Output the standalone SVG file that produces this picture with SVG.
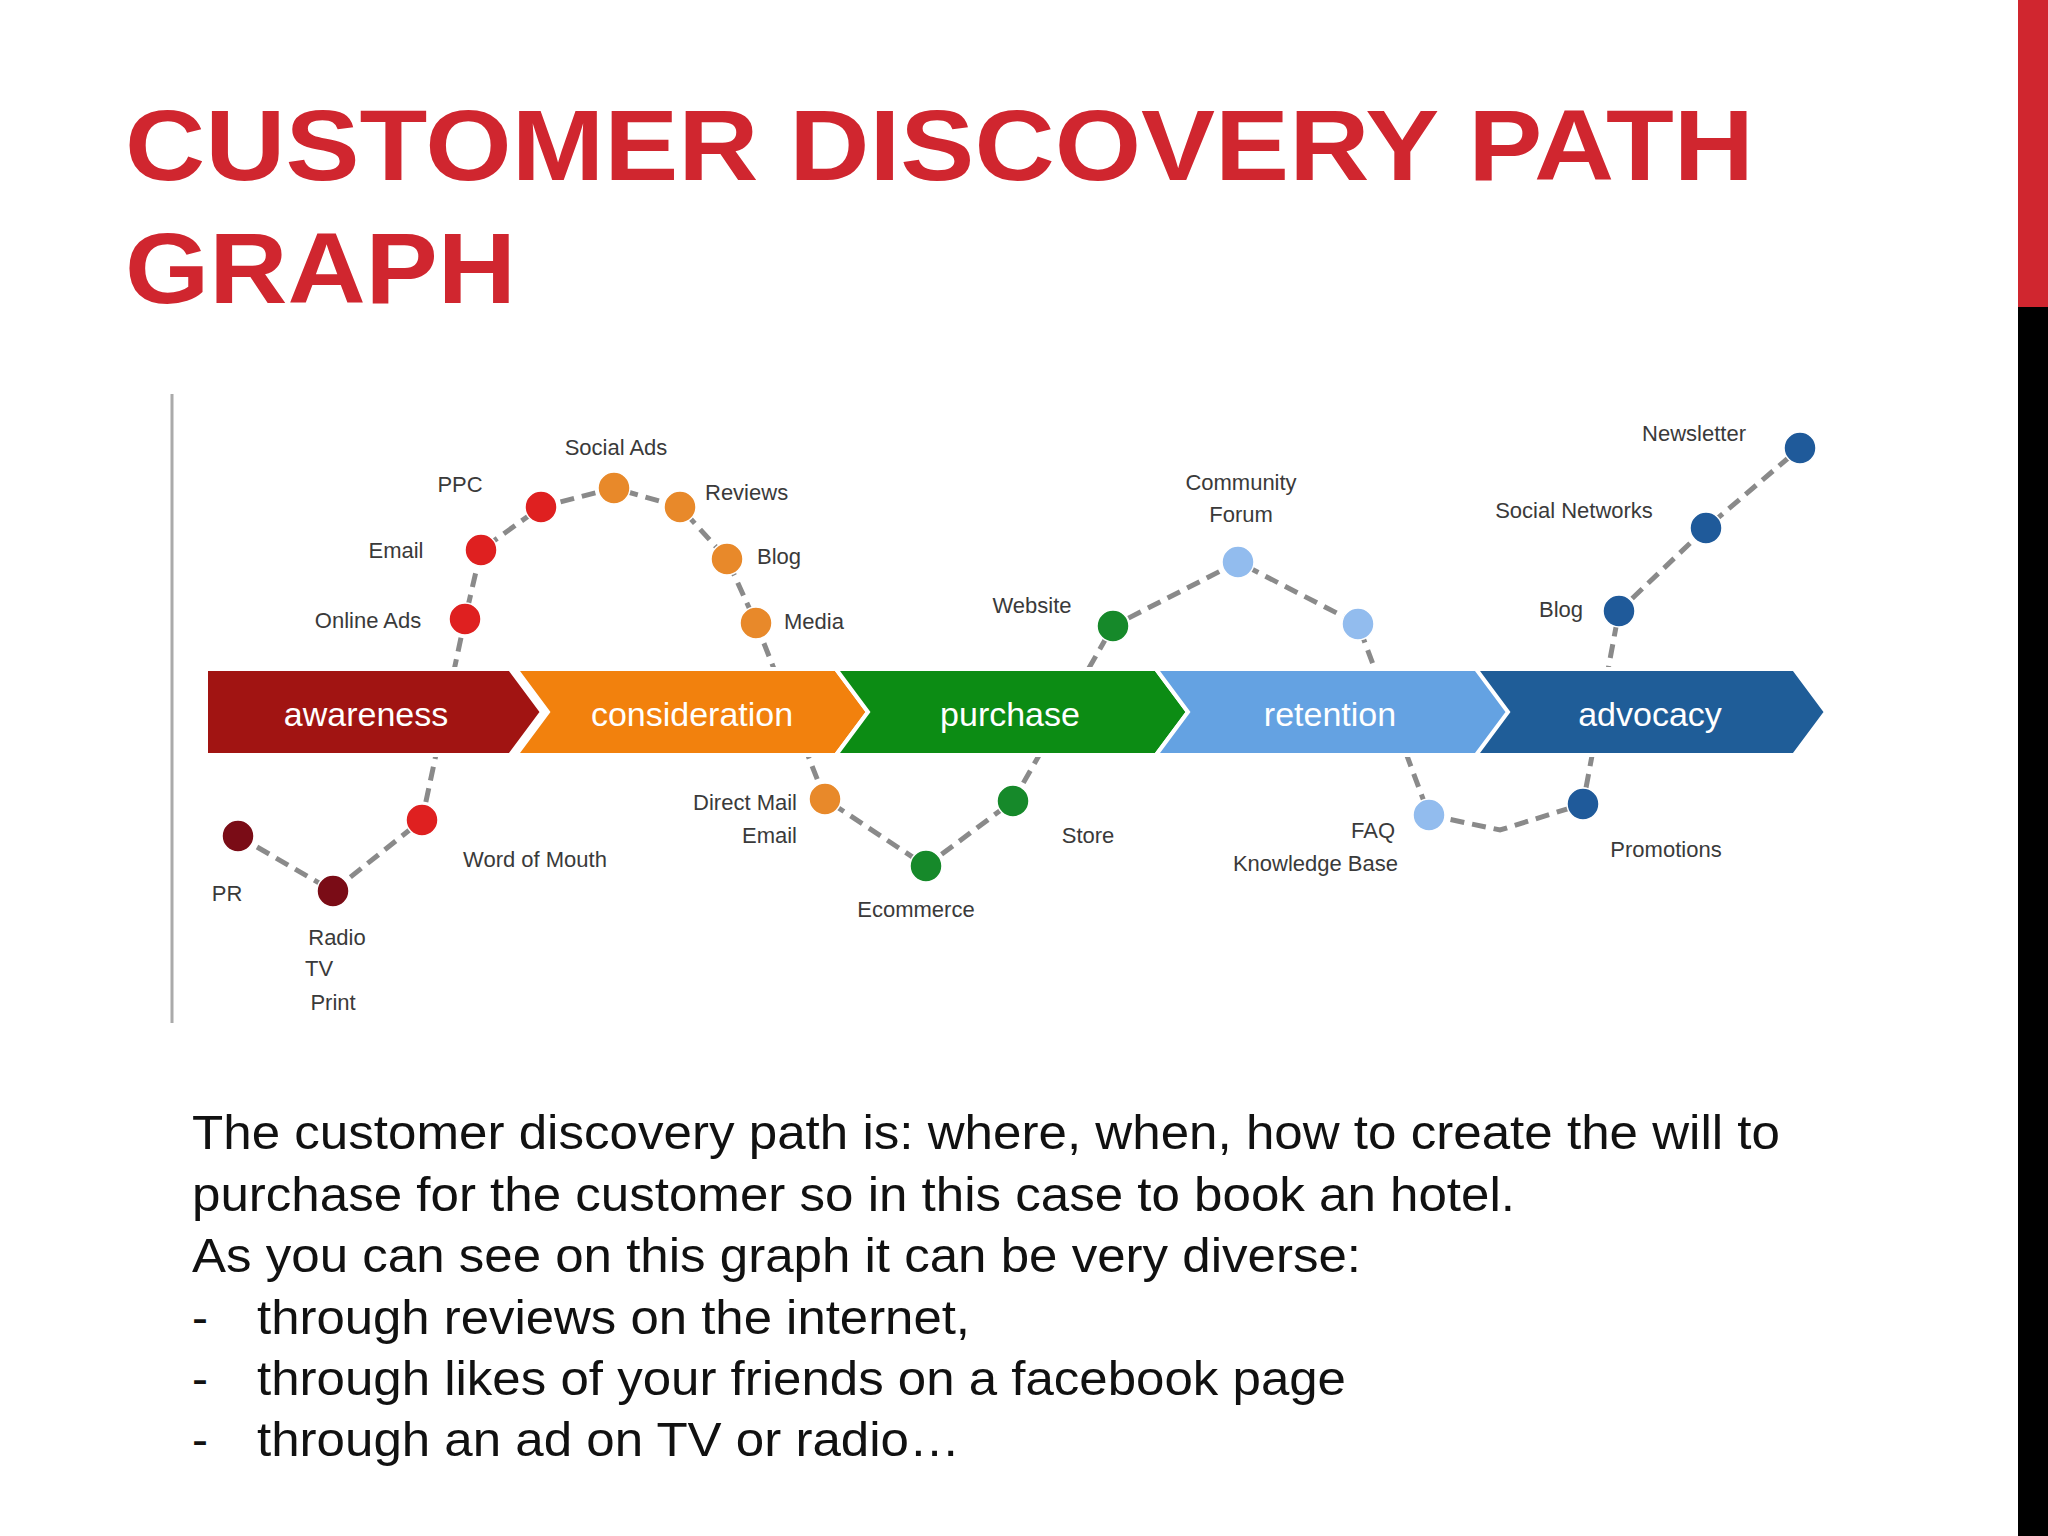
<svg xmlns="http://www.w3.org/2000/svg" width="2048" height="1536" viewBox="0 0 2048 1536">
<style>
.t{font-family:"Liberation Sans",Arial,sans-serif;font-weight:bold;fill:#d0262f;font-size:100px}
.l{font-family:"Liberation Sans",Arial,sans-serif;font-size:22px;fill:#3a3a3a}
.b{font-family:"Liberation Sans",Arial,sans-serif;font-size:34px;fill:#fff;text-anchor:middle}
.x{font-family:"Liberation Sans",Arial,sans-serif;font-size:48px;fill:#111}
.c{text-anchor:middle}.e{text-anchor:end}
.seg{stroke:#fff;stroke-width:4}
.n{stroke:#fff;stroke-width:1.5}
</style>
<rect width="2048" height="1536" fill="#fff"/>
<rect x="2018" y="0" width="30" height="307" fill="#d0262f"/>
<rect x="2018" y="307" width="30" height="1229" fill="#000"/>
<text class="t" x="125" y="180" textLength="1629" lengthAdjust="spacingAndGlyphs">CUSTOMER DISCOVERY PATH</text>
<text class="t" x="125" y="303" textLength="391" lengthAdjust="spacingAndGlyphs">GRAPH</text>
<line x1="172" y1="394" x2="172" y2="1023" stroke="#aaa" stroke-width="3"/>
<g id="connectors">
<polyline fill="none" stroke="#8a8a8a" stroke-width="5" stroke-dasharray="14,8" points="238,836 333,891 422,820 465,619 481,550 541,507 614,488 680,507 727,559 756,623 825,799 926,866 1013,801 1113,626 1238,562 1358,624 1429,815 1500,830 1583,804 1619,611 1706,528 1800,448"/>
</g>
<g id="stages">
<polygon class="seg" fill="#a11412" points="206,669 510,669 542,712 510,755 206,755"/>
<polygon class="seg" fill="#f2810d" points="516,669 836,669 868,712 836,755 516,755 548,712"/>
<polygon class="seg" fill="#0c8c14" points="836,669 1156,669 1188,712 1156,755 836,755 868,712"/>
<polygon class="seg" fill="#64a2e2" points="1156,669 1483,669 1515,712 1483,755 1156,755 1188,712"/>
<polygon class="seg" fill="#1f5d98" points="1476,669 1794,669 1826,712 1794,755 1476,755 1508,712"/>
<text class="b" x="366" y="726">awareness</text>
<text class="b" x="692" y="726">consideration</text>
<text class="b" x="1010" y="726">purchase</text>
<text class="b" x="1330" y="726">retention</text>
<text class="b" x="1650" y="726">advocacy</text>
</g>
<g id="nodes">
<g id="pr"><circle class="n" cx="238" cy="836" r="16" fill="#7a0c16"/><text class="l c" x="227" y="901">PR</text></g>
<g id="radio"><circle class="n" cx="333" cy="891" r="16" fill="#7a0c16"/><text class="l c" x="337" y="945">Radio</text><text class="l c" x="319" y="976">TV</text><text class="l c" x="333" y="1010">Print</text></g>
<g id="wom"><circle class="n" cx="422" cy="820" r="16" fill="#df2020"/><text class="l c" x="535" y="867">Word of Mouth</text></g>
<g id="onlineads"><circle class="n" cx="465" cy="619" r="16" fill="#df2020"/><text class="l c" x="368" y="628">Online Ads</text></g>
<g id="email"><circle class="n" cx="481" cy="550" r="16" fill="#df2020"/><text class="l c" x="396" y="558">Email</text></g>
<g id="ppc"><circle class="n" cx="541" cy="507" r="16" fill="#df2020"/><text class="l c" x="460" y="492">PPC</text></g>
<g id="socialads"><circle class="n" cx="614" cy="488" r="16" fill="#e8892a"/><text class="l c" x="616" y="455">Social Ads</text></g>
<g id="reviews"><circle class="n" cx="680" cy="507" r="16" fill="#e8892a"/><text class="l" x="705" y="500">Reviews</text></g>
<g id="blog1"><circle class="n" cx="727" cy="559" r="16" fill="#e8892a"/><text class="l" x="757" y="564">Blog</text></g>
<g id="media"><circle class="n" cx="756" cy="623" r="16" fill="#e8892a"/><text class="l" x="784" y="629">Media</text></g>
<g id="directmail"><circle class="n" cx="825" cy="799" r="16" fill="#e8892a"/><text class="l e" x="797" y="810">Direct Mail</text><text class="l e" x="797" y="843">Email</text></g>
<g id="ecommerce"><circle class="n" cx="926" cy="866" r="16" fill="#16892a"/><text class="l c" x="916" y="917">Ecommerce</text></g>
<g id="store"><circle class="n" cx="1013" cy="801" r="16" fill="#16892a"/><text class="l c" x="1088" y="843">Store</text></g>
<g id="website"><circle class="n" cx="1113" cy="626" r="16" fill="#16892a"/><text class="l c" x="1032" y="613">Website</text></g>
<g id="community"><circle class="n" cx="1238" cy="562" r="16" fill="#92bcee"/><text class="l c" x="1241" y="490">Community</text><text class="l c" x="1241" y="522">Forum</text></g>
<g id="ret2"><circle class="n" cx="1358" cy="624" r="16" fill="#92bcee"/></g>
<g id="faq"><circle class="n" cx="1429" cy="815" r="16" fill="#92bcee"/><text class="l e" x="1395" y="838">FAQ</text><text class="l e" x="1398" y="871">Knowledge Base</text></g>
<g id="promotions"><circle class="n" cx="1583" cy="804" r="16" fill="#1f5a9a"/><text class="l c" x="1666" y="857">Promotions</text></g>
<g id="blog2"><circle class="n" cx="1619" cy="611" r="16" fill="#1f5a9a"/><text class="l c" x="1561" y="617">Blog</text></g>
<g id="socialnetworks"><circle class="n" cx="1706" cy="528" r="16" fill="#1f5a9a"/><text class="l c" x="1574" y="518">Social Networks</text></g>
<g id="newsletter"><circle class="n" cx="1800" cy="448" r="16" fill="#1f5a9a"/><text class="l c" x="1694" y="441">Newsletter</text></g>
</g>
<g id="body">
<text class="x" x="192" y="1149" textLength="1588" lengthAdjust="spacingAndGlyphs">The customer discovery path is: where, when, how to create the will to</text>
<text class="x" x="192" y="1211" textLength="1323" lengthAdjust="spacingAndGlyphs">purchase for the customer so in this case to book an hotel.</text>
<text class="x" x="192" y="1272" textLength="1169" lengthAdjust="spacingAndGlyphs">As you can see on this graph it can be very diverse:</text>
<text class="x" x="192" y="1334">-</text><text class="x" x="257" y="1334" textLength="713" lengthAdjust="spacingAndGlyphs">through reviews on the internet,</text>
<text class="x" x="192" y="1395">-</text><text class="x" x="257" y="1395" textLength="1089" lengthAdjust="spacingAndGlyphs">through likes of your friends on a facebook page</text>
<text class="x" x="192" y="1456">-</text><text class="x" x="257" y="1456" textLength="703" lengthAdjust="spacingAndGlyphs">through an ad on TV or radio…</text>
</g>
</svg>
